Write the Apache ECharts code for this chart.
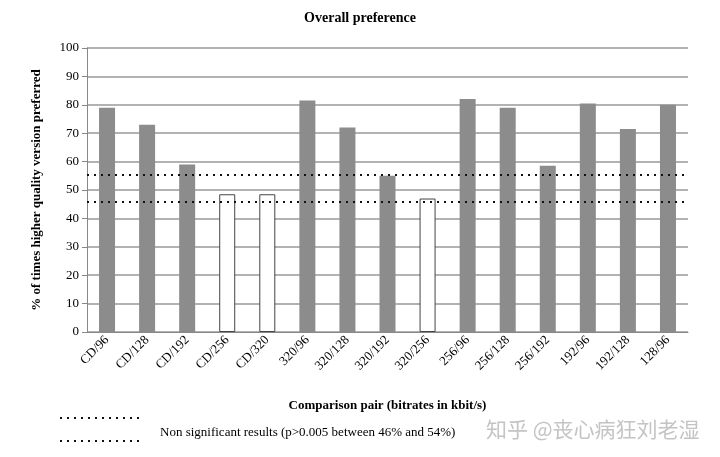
<!doctype html>
<html>
<head>
<meta charset="UTF-8">
<title>Overall preference</title>
<script src="https://cdn.jsdelivr.net/npm/echarts@6/dist/echarts.min.js"></script>
<style>body{margin:0;background:#fff}</style>
</head>
<body>
<div id="main" style="width:720px;height:457px;"></div>
<script>
var pairs = ['CD/96','CD/128','CD/192','CD/256','CD/320','320/96','320/128','320/192','320/256','256/96','256/128','256/192','192/96','192/128','128/96'];
var preferred = [79, 73, 59, 48.5, 48.5, 81.5, 72, 55, 47, 82, 79, 58.5, 80.5, 71.5, 80];
var nonSignificant = [3, 4, 8];
var thresholds = [55.3, 46];

var font = '"Liberation Serif", "Times New Roman", serif';
var chart = echarts.init(document.getElementById('main'));
chart.setOption({
    animation: false,
    textStyle: { fontFamily: font },
    title: {
        text: 'Overall preference', left: 'center', top: 6,
        textStyle: { fontFamily: font, fontSize: 14, fontWeight: 'bold', color: '#000' }
    },
    grid: { left: 87, right: 32, top: 48, bottom: 125 },
    xAxis: {
        type: 'category', data: pairs,
        name: 'Comparison pair (bitrates in kbit/s)', nameLocation: 'middle', nameGap: 67,
        nameTextStyle: { fontFamily: font, fontSize: 13, fontWeight: 'bold', color: '#000' },
        axisLine: { lineStyle: { color: '#888' } },
        axisTick: { lineStyle: { color: '#888' } },
        axisLabel: { rotate: 45, color: '#000', fontSize: 13, fontFamily: font, margin: 6 }
    },
    yAxis: {
        type: 'value', min: 0, max: 100, interval: 10,
        name: '% of times higher quality version preferred', nameLocation: 'middle', nameGap: 44,
        nameTextStyle: { fontFamily: font, fontSize: 13, fontWeight: 'bold', color: '#000' },
        axisLine: { show: true, lineStyle: { color: '#888' } },
        axisTick: { show: true, lineStyle: { color: '#888' } },
        axisLabel: { color: '#000', fontSize: 13, fontFamily: font },
        splitLine: { lineStyle: { color: '#999', width: 1.5 } }
    },
    series: [{
        type: 'bar', barWidth: 16,
        data: preferred.map(function (v, i) {
            var open = nonSignificant.indexOf(i) >= 0;
            return { value: v, itemStyle: open ? { color: '#fff', borderColor: '#444', borderWidth: 1 } : { color: '#8c8c8c' } };
        }),
        markLine: {
            symbol: 'none', silent: true, label: { show: false },
            lineStyle: { type: [2, 5], color: '#111', width: 2 },
            data: thresholds.map(function (t) { return { yAxis: t }; })
        }
    }],
    graphic: [
        { type: 'line', shape: { x1: 60, y1: 418, x2: 142, y2: 418 }, style: { stroke: '#111', lineWidth: 2, lineDash: [2, 5] } },
        { type: 'line', shape: { x1: 60, y1: 441, x2: 142, y2: 441 }, style: { stroke: '#111', lineWidth: 2, lineDash: [2, 5] } },
        { type: 'text', left: 160, top: 426, style: { text: 'Non significant results (p>0.005 between 46% and 54%)', font: '13px ' + font, fill: '#000' } },
        { type: 'text', left: 486, top: 419, style: { text: '知乎 @丧心病狂刘老湿', font: '21px "Noto Sans CJK SC"', fill: '#c4c4c4' } }
    ]
});
</script>
</body>
</html>
